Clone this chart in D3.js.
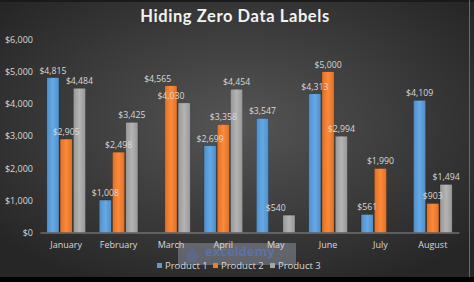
<!DOCTYPE html>
<head>
  <meta charset="utf-8">
  <script src="https://d3js.org/d3.v7.min.js"></script>
  <style>
    body { margin:0; background:#000; }
  </style>
</head>
<body>
  <script>
    var width = 474,
        height = 282;

    var months = ["January", "February", "March", "April", "May", "June", "July", "August"];
    var seriesNames = ["Product 1", "Product 2", "Product 3"];
    var product1 = [4815, 1008, 0, 2699, 3547, 4313, 561, 4109];
    var product2 = [2905, 2498, 4565, 3358, 0, 5000, 1990, 903];
    var product3 = [4484, 3425, 4030, 4454, 540, 2994, 0, 1494];
    var yTicks = [0, 1000, 2000, 3000, 4000, 5000, 6000];
    var colors = ["#5b9bd5", "#ed7d31", "#a5a5a5"];

    var rows = months.map(function(m, i) {
      return {month: m, values: [product1[i], product2[i], product3[i]]};
    });

    var svg = d3.select("body").append("svg")
      .attr("width", width)
      .attr("height", height);

    var defs = svg.append("defs");
    var bg = defs.append("radialGradient").attr("id", "bg")
      .attr("cx", "50%").attr("cy", "45%").attr("r", "65%");
    bg.append("stop").attr("offset", "0%").attr("stop-color", "#555555");
    bg.append("stop").attr("offset", "100%").attr("stop-color", "#262626");

    colors.forEach(function(c, i) {
      var g = defs.append("linearGradient").attr("id", "bar" + i)
        .attr("x1", "0%").attr("x2", "100%").attr("y1", "0%").attr("y2", "0%");
      g.append("stop").attr("offset", "0%").attr("stop-color", d3.color(c).darker(0.25));
      g.append("stop").attr("offset", "50%").attr("stop-color", d3.color(c).brighter(0.25));
      g.append("stop").attr("offset", "100%").attr("stop-color", d3.color(c).darker(0.25));
    });

    svg.append("rect").attr("width", width).attr("height", 277).attr("fill", "url(#bg)");
    svg.append("rect").attr("width", width).attr("height", 2).attr("fill", "#1a1a1a");
    svg.append("rect").attr("x", 469).attr("width", 1).attr("height", 277).attr("fill", "#6a6a6a");

    svg.append("text")
      .attr("x", 235).attr("y", 22)
      .attr("text-anchor", "middle")
      .style("font-family", "Lato")
      .style("font-weight", "bold")
      .style("font-size", "16.5px")
      .style("letter-spacing", "0.6px")
      .attr("fill", "#f2f2f2")
      .text("Hiding Zero Data Labels");

    var x0 = d3.scaleBand().domain(months).range([40, 459]).paddingInner(0.22).paddingOuter(0.11);
    var x1 = d3.scaleBand().domain([0, 1, 2]).range([0, x0.bandwidth()]).padding(0.08);
    var y = d3.scaleLinear().domain([0, 6000]).range([232.5, 39.5]);

    // watermark (drawn behind the axis labels)
    var wm = svg.append("g");
    wm.append("rect").attr("x", 178).attr("y", 243).attr("width", 118).attr("height", 22)
      .attr("fill", "#9da2b4").attr("opacity", 0.45);
    wm.append("path").attr("d", "M184,257 L192,248 L200,257 L197,257 L197,262 L187,262 L187,257 Z")
      .attr("fill", "#5a6a90").attr("opacity", 0.7);
    wm.append("text").attr("x", 205).attr("y", 256)
      .style("font-family", "Open Sans").style("font-weight", "bold").style("font-size", "13px")
      .attr("fill", "#5877b8").attr("opacity", 0.75).text("exceldemy");

    var yAxis = svg.append("g").attr("transform", "translate(33,0)")
      .call(d3.axisLeft(y).tickValues(yTicks).tickSize(0).tickPadding(0)
        .tickFormat(function(d) { return "$" + d3.format(",")(d); }));
    yAxis.select(".domain").remove();
    yAxis.selectAll("text")
      .attr("fill", "#d9d9d9")
      .style("font-family", "Open Sans")
      .style("font-size", "9px");

    var groups = svg.selectAll("g.month").data(rows).enter()
      .append("g").attr("class", "month")
      .attr("transform", function(d) { return "translate(" + x0(d.month) + ",0)"; });

    groups.selectAll("rect").data(function(d) { return d.values; }).enter()
      .append("rect")
      .attr("x", function(d, i) { return x1(i); })
      .attr("y", function(d) { return y(d); })
      .attr("width", x1.bandwidth())
      .attr("height", function(d) { return y(0) - y(d); })
      .attr("fill", function(d, i) { return "url(#bar" + i + ")"; })
      .attr("stroke", "rgba(0,0,0,0.35)")
      .attr("stroke-width", 0.6);

    // zero values get no label
    groups.selectAll("text").data(function(d) { return d.values; }).enter()
      .filter(function(d) { return d !== 0; })
      .append("text")
      .attr("x", function(d, i) { return x1(i) + x1.bandwidth() / 2; })
      .attr("y", function(d) { return y(d) - 4; })
      .attr("text-anchor", "middle")
      .attr("fill", "#d9d9d9")
      .style("font-family", "Open Sans")
      .style("font-size", "8.7px")
      .text(function(d) { return "$" + d3.format(",")(d); });

    var xAxis = svg.append("g").attr("transform", "translate(0,232.5)")
      .call(d3.axisBottom(x0).tickSize(0).tickPadding(9));
    xAxis.select(".domain").attr("stroke", "#8c8c8c").attr("stroke-width", 1);
    xAxis.selectAll("text")
      .attr("fill", "#d9d9d9")
      .style("font-family", "Open Sans")
      .style("font-size", "9px");

    var legend = svg.append("g").attr("transform", "translate(157,268)");
    var lx = [0, 56, 113];
    seriesNames.forEach(function(name, i) {
      var item = legend.append("g").attr("transform", "translate(" + lx[i] + ",0)");
      item.append("rect").attr("x", 0).attr("y", -5).attr("width", 5).attr("height", 5)
        .attr("fill", colors[i]);
      item.append("text").attr("x", 8).attr("y", 0.5)
        .attr("fill", "#d9d9d9")
        .style("font-family", "Open Sans")
        .style("font-size", "9.5px")
        .text(name);
    });
  </script>
</body>
